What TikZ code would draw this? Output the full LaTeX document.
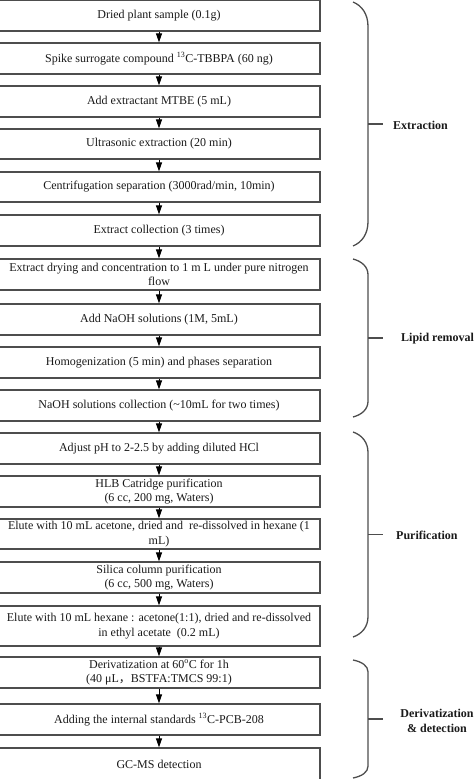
\documentclass[tikz,border=0pt]{standalone}
\usepackage{fontspec}
\setmainfont{Liberation Serif}
\newfontfamily\cjk{Noto Sans CJK SC}
\usetikzlibrary{arrows.meta}
\definecolor{boxline}{HTML}{4D4D4D}
\definecolor{txt}{HTML}{1A1A1A}
\newcommand\mybrace[3]{%
  \pgfmathsetmacro\bc{0.1*(#2-#1)}%
  \pgfmathsetmacro\bm{(#1+#2)/2}%
  \draw[bracestyle] (353,#1) .. controls (362,#1+0.15*\bc) and (368,#1+0.5*\bc) .. (368,#1+\bc)
     -- (368,#2-\bc) .. controls (368,#2-0.5*\bc) and (362,#2-0.15*\bc) .. (353,#2);
  \draw[bracestyle] (368,\bm) -- (383,\bm) coordinate (#3);
}
\begin{document}
\begin{tikzpicture}[x=1pt,y=-1pt,
  stepbox/.style={draw=boxline,line width=1.2pt,minimum width=322pt,inner sep=1pt,
    align=center,font=\fontsize{12}{14.4}\selectfont,text=txt},
  arr/.style={draw=black,line width=1pt,-{Triangle[width=6pt,length=9pt]}},
  bracestyle/.style={draw=boxline,line width=1.3pt},
  lab/.style={font=\fontsize{12}{14.4}\selectfont\bfseries,text=txt,inner sep=0pt,align=center}]
\useasboundingbox (0,0) rectangle (474,779);
\fill[white] (0,0) rectangle (474,779);
% boxes
\node[stepbox,minimum height=31pt] (b1) at (159,15.5) {Dried plant sample (0.1g)};
\node[stepbox,minimum height=31pt] (b2) at (159,58.5) {Spike surrogate compound \textsuperscript{13}C-TBBPA (60 ng)};
\node[stepbox,minimum height=31pt] (b3) at (159,101.5) {Add extractant MTBE (5 mL)};
\node[stepbox,minimum height=30pt] (b4) at (159,144) {Ultrasonic extraction (20 min)};
\node[stepbox,minimum height=30pt] (b5) at (159,187) {Centrifugation separation (3000rad/min, 10min)};
\node[stepbox,minimum height=31pt] (b6) at (159,230.5) {Extract collection (3 times)};
\node[stepbox,minimum height=31pt] (b7) at (159,274.5) {Extract drying and concentration to 1 m L under pure nitrogen\\flow};
\node[stepbox,minimum height=31pt] (b8) at (159,319.5) {Add NaOH solutions (1M, 5mL)};
\node[stepbox,minimum height=31pt] (b9) at (159,362.5) {Homogenization (5 min) and phases separation};
\node[stepbox,minimum height=31pt] (b10) at (159,405.5) {NaOH solutions collection (\textasciitilde10mL for two times)};
\node[stepbox,minimum height=31pt] (b11) at (159,448.5) {Adjust pH to 2-2.5 by adding diluted HCl};
\node[stepbox,minimum height=31pt] (b12) at (159,491.5) {HLB Catridge purification\\(6 cc, 200 mg, Waters)};
\node[stepbox,minimum height=30pt] (b13) at (159,534) {Elute with 10 mL acetone, dried and\ \ re-dissolved in hexane (1\\mL)};
\node[stepbox,minimum height=31pt] (b14) at (159,577.5) {Silica column purification\\(6 cc, 500 mg, Waters)};
\node[stepbox,minimum height=40pt] (b15) at (159,626) {Elute with 10 mL hexane : acetone(1:1), dried and re-dissolved\\in ethyl acetate\ \ (0.2 mL)};
\node[stepbox,minimum height=31pt] (b16) at (159,672.5) {Derivatization at 60\textsuperscript{o}C for 1h\\(40 μL{\cjk ，}BSTFA:TMCS 99:1)};
\node[stepbox,minimum height=31pt] (b17) at (159,719.5) {Adding the internal standards \textsuperscript{13}C-PCB-208};
\node[stepbox,minimum height=32pt] (b18) at (159,764) {GC-MS detection};
% arrows
\foreach \a/\b in {b1/b2,b2/b3,b3/b4,b4/b5,b5/b6,b6/b7,b7/b8,b8/b9,b9/b10,b10/b11,b11/b12,b12/b13,b13/b14,b14/b15,b15/b16,b16/b17,b17/b18}
  \draw[arr] (\a.south) -- (\b.north);
% braces
\mybrace{2}{246}{t1}
\mybrace{259}{417}{t2}
\mybrace{432}{637}{t3}
\mybrace{660}{778}{t4}
% labels
\node[lab,anchor=west] (l1) at (393,125) {Extraction};
\node[lab,anchor=west] (l2) at (401,339) {Lipid removal};
\node[lab,anchor=west] (l3) at (396,535) {Purification};
\node[lab] (l4) at (437,721) {Derivatization\\\& detection};
\end{tikzpicture}
\end{document}
